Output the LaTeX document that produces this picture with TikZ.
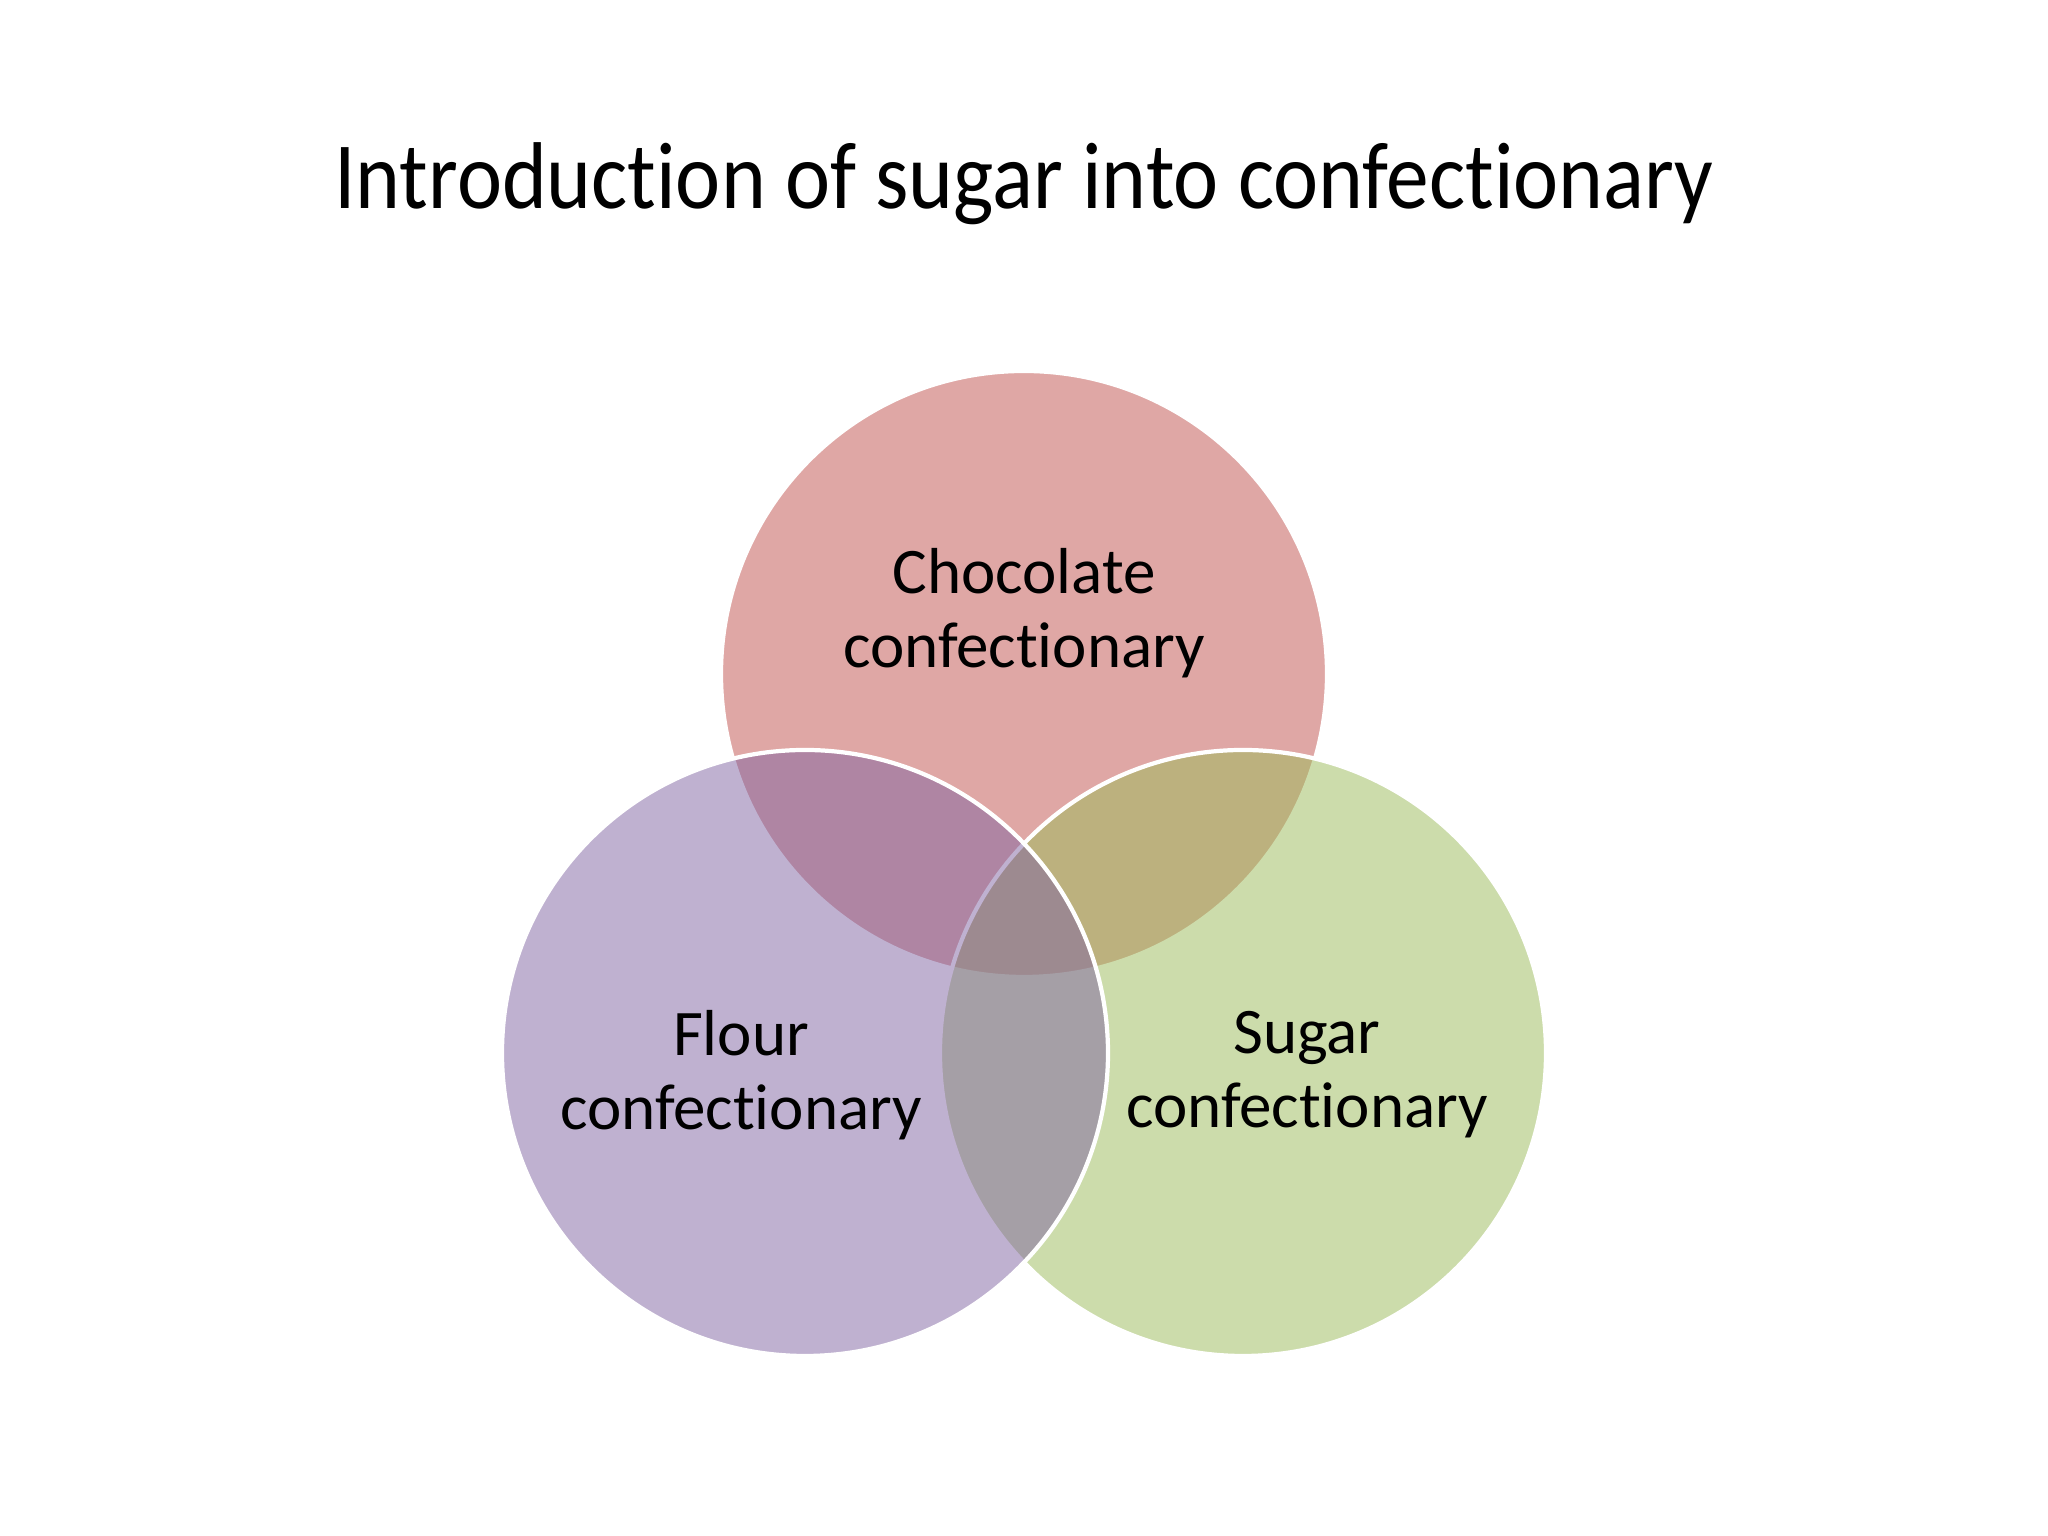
\documentclass[tikz,border=0pt]{standalone}
\usepackage{fontspec}
\setmainfont{Carlito}[Ligatures = CommonOff]
\newfontfamily\titlefont[FakeStretch = 0.9, Ligatures = CommonOff]{Carlito}
\definecolor{chocred}{HTML}{C0504D}
\definecolor{flourlilac}{HTML}{8064A2}
\definecolor{sugargreen}{HTML}{9BBB59}
\tikzset{
   venn/.style = {draw = white, line width = 1.2pt, fill opacity = 0.5},
   venntext/.style = {align = center, font = \fontsize{18.5}{21}\selectfont}
}
\begin{document}
\begin{tikzpicture}[color = {black},scale = 1]
   \useasboundingbox (0,0) rectangle (20.48,15.36);
   \fill[white] (0,0) rectangle (20.48,15.36);
   \node[anchor = base, font = \titlefont\fontsize{27}{32}\selectfont] (title) at (10.24,13.27) {Introduction of sugar into confectionary};
   \draw[venn, fill = chocred] (10.24,8.62) circle (3.03);
   \draw[venn, fill = sugargreen] (12.43,4.83) circle (3.03);
   \draw[venn, fill = flourlilac] (8.05,4.83) circle (3.03);
   \node[venntext] (choc) at (10.24,9.23) {Chocolate\\confectionary};
   \node[venntext] (flour) at (7.41,4.61) {Flour\\confectionary};
   \node[venntext] (sugar) at (13.07,4.61) {Sugar\\confectionary};
\end{tikzpicture}
\end{document}
